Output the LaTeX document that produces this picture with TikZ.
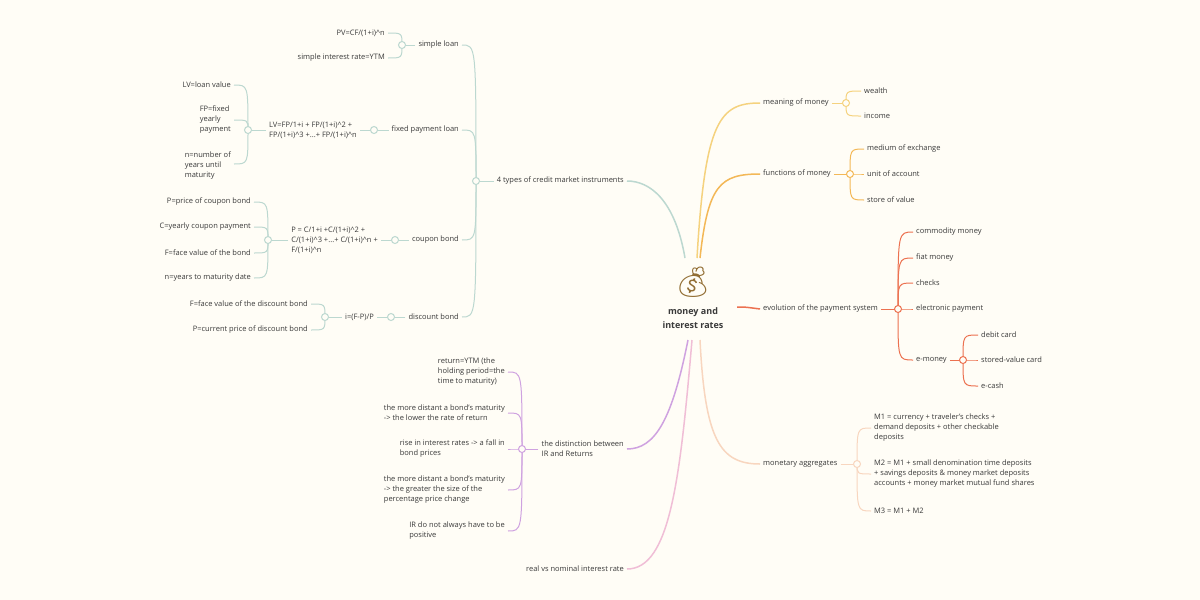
\documentclass[tikz,border=0pt]{standalone}
\usepackage{fontspec}
\setmainfont{Open Sans}
\newfontfamily\emo{Noto Emoji}
\definecolor{bg}{HTML}{FFFDF6}
\definecolor{txt}{HTML}{3A3A3A}
\definecolor{cA}{HTML}{F5D27E}
\definecolor{cB}{HTML}{F3B857}
\definecolor{cC}{HTML}{EC7150}
\definecolor{cD}{HTML}{F8D6BF}
\definecolor{cE}{HTML}{BCD8D0}
\definecolor{cF}{HTML}{CFA2E0}
\definecolor{cG}{HTML}{F0BED6}
\newcommand\fsz{\fontsize{7.5}{10}\selectfont}
\newcommand\lk[3]{\draw[#1,line width=1pt] (#2) .. controls (#2|-#3) .. (#3);}
\tikzset{
 t/.style={font=\fsz, text=txt, inner sep=3pt, align=left},
 dot/.style={circle, draw=#1, fill=bg, minimum size=7pt, inner sep=0pt, line width=1pt},
 br/.style={draw=#1, line width=1.5pt}
}
\begin{document}
\begin{tikzpicture}[x=1pt,y=-1pt]
\fill[bg] (0,0) rectangle (1200,600);
\useasboundingbox (0,0) rectangle (1200,600);
% center
\node (emo) at (693,282) {\emo\fontsize{30}{30}\selectfont\color{cB!60!black}💰};
\node[font=\bfseries\fontsize{9}{13.5}\selectfont, text=txt, align=center] (cen) at (693,318) {money and\\interest rates};
\coordinate (s1) at (697,258);
\coordinate (s2) at (700,258);
\coordinate (s3) at (737,307);
\coordinate (s4) at (700,340);
\coordinate (s5) at (685,258);
\coordinate (s6) at (688,340);
\coordinate (s7) at (692,340);
% right branches
\node[t,anchor=west] (mean) at (760,103) {meaning of money};
\node[t,anchor=west] (func) at (760,174) {functions of money};
\node[t,anchor=west] (evol) at (760,309) {evolution of the payment system};
\node[t,anchor=west] (mon) at (760,464) {monetary aggregates};
\draw[br=cA] (s1) .. controls (705,120) and (720,103) .. (mean.west);
\draw[br=cB] (s2) .. controls (708,185) and (720,174) .. (func.west);
\draw[br=cC] (s3) .. controls (745,307) .. (evol.west);
\draw[br=cD] (s4) .. controls (705,440) and (720,464) .. (mon.west);
% meaning
\coordinate (cm) at (846,103);
\node[t,anchor=west] (wea) at (861,91) {wealth};
\node[t,anchor=west] (inc) at (861,116) {income};
\draw[cA,line width=1pt] (mean.east) -- (cm);
\lk{cA}{cm}{wea.west}\lk{cA}{cm}{inc.west}
% functions
\coordinate (cf) at (850,174);
\node[t,anchor=west] (med) at (864,149) {medium of exchange};
\node[t,anchor=west] (uoa) at (864,174) {unit of account};
\node[t,anchor=west] (sov) at (864,200) {store of value};
\draw[cB,line width=1pt] (func.east) -- (cf);
\lk{cB}{cf}{med.west}\lk{cB}{cf}{uoa.west}\lk{cB}{cf}{sov.west}
% evolution
\coordinate (ce) at (898,309);
\node[t,anchor=west] (com) at (913,232) {commodity money};
\node[t,anchor=west] (fiat) at (913,258) {fiat money};
\node[t,anchor=west] (chk) at (913,283) {checks};
\node[t,anchor=west] (elp) at (913,309) {electronic payment};
\node[t,anchor=west] (emn) at (913,360) {e-money};
\draw[cC,line width=1pt] (evol.east) -- (ce);
\lk{cC}{ce}{com.west}\lk{cC}{ce}{fiat.west}\lk{cC}{ce}{chk.west}\lk{cC}{ce}{elp.west}\lk{cC}{ce}{emn.west}
\coordinate (cem) at (963,360);
\node[t,anchor=west] (deb) at (978,335) {debit card};
\node[t,anchor=west] (svc) at (978,360) {stored-value card};
\node[t,anchor=west] (ecs) at (978,386) {e-cash};
\draw[cC,line width=1pt] (emn.east) -- (cem);
\lk{cC}{cem}{deb.west}\lk{cC}{cem}{svc.west}\lk{cC}{cem}{ecs.west}
% monetary aggregates
\coordinate (cma) at (857,464);
\node[t,anchor=west] (m1) at (871,428) {M1 = currency + traveler's checks +\\demand deposits + other checkable\\deposits};
\node[t,anchor=west] (m2) at (871,474) {M2 = M1 + small denomination time deposits\\+ savings deposits \& money market deposits\\accounts + money market mutual fund shares};
\node[t,anchor=west] (m3) at (871,511) {M3 = M1 + M2};
\draw[cD,line width=1pt] (mon.east) -- (cma);
\lk{cD}{cma}{m1.west}\lk{cD}{cma}{m2.west}\lk{cD}{cma}{m3.west}
% left: 4 types
\node[t,anchor=east] (four) at (627,181) {4 types of credit market instruments};
\draw[br=cE] (s5) .. controls (675,200) and (650,181) .. (four.east);
\coordinate (c4) at (476,181);
\node[t,anchor=east] (sl) at (462,45) {simple loan};
\node[t,anchor=east] (fpl) at (462,130) {fixed payment loan};
\node[t,anchor=east] (cb) at (462,240) {coupon bond};
\node[t,anchor=east] (db) at (462,317) {discount bond};
\draw[cE,line width=1pt] (four.west) -- (c4);
\lk{cE}{c4}{sl.east}\lk{cE}{c4}{fpl.east}\lk{cE}{c4}{cb.east}\lk{cE}{c4}{db.east}
% simple loan
\coordinate (csl) at (402,45);
\node[t,anchor=east] (pv) at (388,33) {PV=CF/(1+i)\^{}n};
\node[t,anchor=east] (sir) at (388,58) {simple interest rate=YTM};
\draw[cE,line width=1pt] (sl.west) -- (csl);
\lk{cE}{csl}{pv.east}\lk{cE}{csl}{sir.east}
% fixed payment loan
\coordinate (cfp) at (374,130);
\node[t,anchor=east] (lvf) at (360,130) {LV=FP/1+i + FP/(1+i)\^{}2 +\\FP/(1+i)\^{}3 +...+ FP/(1+i)\^{}n};
\draw[cE,line width=1pt] (fpl.west) -- (lvf.east);
\coordinate (cfp2) at (248,130);
\node[t,anchor=east] (lv) at (234,85) {LV=loan value};
\node[t,anchor=east] (fp) at (234,120) {FP=fixed\\yearly\\payment};
\node[t,anchor=east] (nn) at (234,166) {n=number of\\years until\\maturity};
\coordinate (nnc) at (234,164);
\draw[cE,line width=1pt] (lvf.west) -- (cfp2);
\lk{cE}{cfp2}{lv.east}\lk{cE}{cfp2}{fp.east}\lk{cE}{cfp2}{nnc}
% coupon bond
\coordinate (ccb) at (395,240);
\node[t,anchor=east] (pf) at (381,240) {P = C/1+i +C/(1+i)\^{}2 +\\C/(1+i)\^{}3 +...+ C/(1+i)\^{}n +\\F/(1+i)\^{}n};
\draw[cE,line width=1pt] (cb.west) -- (pf.east);
\coordinate (ccb2) at (268,240);
\node[t,anchor=east] (pp) at (254,202) {P=price of coupon bond};
\node[t,anchor=east] (cc) at (254,227) {C=yearly coupon payment};
\node[t,anchor=east] (ff) at (254,253) {F=face value of the bond};
\node[t,anchor=east] (ny) at (254,278) {n=years to maturity date};
\draw[cE,line width=1pt] (pf.west) -- (ccb2);
\lk{cE}{ccb2}{pp.east}\lk{cE}{ccb2}{cc.east}\lk{cE}{ccb2}{ff.east}\lk{cE}{ccb2}{ny.east}
% discount bond
\coordinate (cdb) at (391,317);
\node[t,anchor=east] (ifp) at (377,317) {i=(F-P)/P};
\draw[cE,line width=1pt] (db.west) -- (ifp.east);
\coordinate (cdb2) at (325,317);
\node[t,anchor=east] (fd) at (311,304) {F=face value of the discount bond};
\node[t,anchor=east] (pd) at (311,330) {P=current price of discount bond};
\draw[cE,line width=1pt] (ifp.west) -- (cdb2);
\lk{cE}{cdb2}{fd.east}\lk{cE}{cdb2}{pd.east}
% distinction
\node[t,anchor=east] (dist) at (627,449) {the distinction between\\IR and Returns};
\draw[br=cF] (s6) .. controls (672,420) and (655,449) .. (dist.east);
\coordinate (cd) at (522,449);
\node[t,anchor=east] (r1) at (508,372) {return=YTM (the\\holding period=the\\time to maturity)};
\node[t,anchor=east] (r2) at (508,413) {the more distant a bond's maturity\\-> the lower the rate of return};
\node[t,anchor=east] (r3) at (508,449) {rise in interest rates -> a fall in\\bond prices};
\node[t,anchor=east] (r4) at (508,490) {the more distant a bond's maturity\\-> the greater the size of the\\percentage price change};
\node[t,anchor=east] (r5) at (508,531) {IR do not always have to be\\positive};
\draw[cF,line width=1pt] (dist.west) -- (cd);
\lk{cF}{cd}{r1.east}\lk{cF}{cd}{r2.east}\lk{cF}{cd}{r3.east}\lk{cF}{cd}{r4.east}\lk{cF}{cd}{r5.east}
% real vs nominal
\node[t,anchor=east] (rvn) at (627,569) {real vs nominal interest rate};
\draw[br=cG] (s7) .. controls (680,480) and (670,569) .. (rvn.east);
% circles
\foreach \c/\k in {cm/cA,cf/cB,ce/cC,cem/cC,cma/cD,c4/cE,csl/cE,cfp/cE,cfp2/cE,ccb/cE,ccb2/cE,cdb/cE,cdb2/cE,cd/cF}
  \node[dot=\k] at (\c) {};
\end{tikzpicture}
\end{document}
